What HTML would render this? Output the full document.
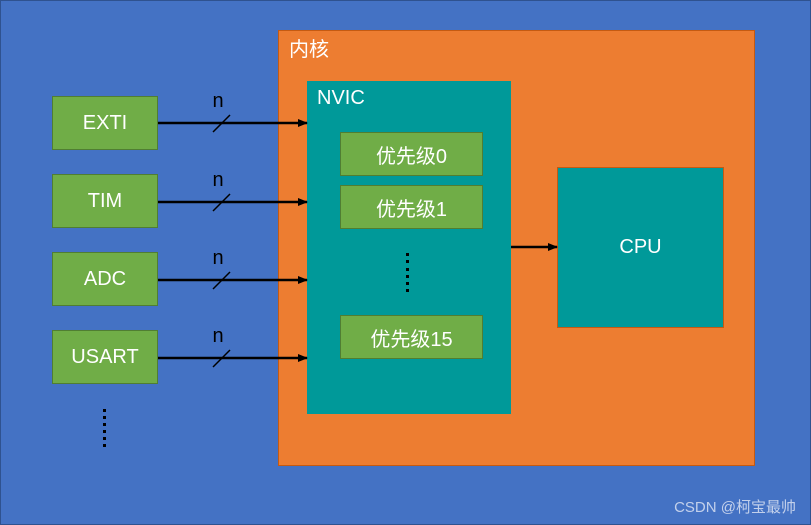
<!DOCTYPE html>
<html><head><meta charset="utf-8"><style>
body{margin:0;width:811px;height:525px;overflow:hidden;background:#4472C4;font-family:"Liberation Sans","Noto Sans CJK SC",sans-serif}
.b{position:absolute;box-sizing:border-box;color:#fff;display:flex;align-items:center;justify-content:center;font-size:20px}
.g{background:#70AD47;border:1.5px solid #507E32}
</style></head><body>
<div class="b" style="left:0;top:0;width:811px;height:525px;border:1px solid #2F528F"></div>
<div class="b" style="left:278px;top:30px;width:477px;height:436px;background:#ED7D31;border:1px solid #C55A11;align-items:flex-start;justify-content:flex-start;padding:2px 0 0 10px">内核</div>
<div class="b" style="left:307px;top:81px;width:204px;height:333px;background:#009999;align-items:flex-start;justify-content:flex-start;padding:6px 0 0 10px">NVIC</div>
<div class="b" style="left:557px;top:167px;width:167px;height:161px;background:#009999;border:1px solid #C55A11">CPU</div>
<div class="b g" style="left:340px;top:132px;width:143px;height:44px">优先级0</div>
<div class="b g" style="left:340px;top:185px;width:143px;height:44px">优先级1</div>
<div class="b g" style="left:340px;top:315px;width:143px;height:44px">优先级15</div>
<div class="b g" style="left:52px;top:96px;width:106px;height:54px">EXTI</div>
<div class="b g" style="left:52px;top:174px;width:106px;height:54px">TIM</div>
<div class="b g" style="left:52px;top:252px;width:106px;height:54px">ADC</div>
<div class="b g" style="left:52px;top:330px;width:106px;height:54px">USART</div>
<svg width="811" height="525" style="position:absolute;left:0;top:0">
<defs><marker id="a" markerWidth="10" markerHeight="8" refX="9" refY="4" orient="auto" markerUnits="userSpaceOnUse"><path d="M0,0 L10,4 L0,8z" fill="#000"/></marker></defs>
<g stroke="#000" stroke-width="2.5" fill="none">
<line x1="158" y1="123" x2="307" y2="123" marker-end="url(#a)"/>
<line x1="158" y1="202" x2="307" y2="202" marker-end="url(#a)"/>
<line x1="158" y1="280" x2="307" y2="280" marker-end="url(#a)"/>
<line x1="158" y1="358" x2="307" y2="358" marker-end="url(#a)"/>
<line x1="511" y1="247" x2="557" y2="247" marker-end="url(#a)"/>
</g>
<g stroke="#000" stroke-width="1.5">
<line x1="213" y1="132" x2="230" y2="115"/>
<line x1="213" y1="211" x2="230" y2="194"/>
<line x1="213" y1="289" x2="230" y2="272"/>
<line x1="213" y1="367" x2="230" y2="350"/>
</g>
<g font-family="Liberation Sans" font-size="20" fill="#000" text-anchor="middle">
<text x="218" y="107">n</text><text x="218" y="186">n</text><text x="218" y="264">n</text><text x="218" y="342">n</text>
</g>
<g fill="#000">
<rect x="406" y="253" width="3" height="3"/><rect x="406" y="260" width="3" height="3"/><rect x="406" y="268" width="3" height="3"/><rect x="406" y="275" width="3" height="3"/><rect x="406" y="282" width="3" height="3"/><rect x="406" y="289" width="3" height="3"/>
<rect x="103" y="409" width="3" height="3"/><rect x="103" y="416" width="3" height="3"/><rect x="103" y="423" width="3" height="3"/><rect x="103" y="430" width="3" height="3"/><rect x="103" y="437" width="3" height="3"/><rect x="103" y="444" width="3" height="3"/>
</g>
<text x="796" y="512" text-anchor="end" font-family="Liberation Sans,Noto Sans CJK SC,sans-serif" font-size="15" fill="#D9E1F2" opacity="0.85">CSDN @柯宝最帅</text>
</svg>
</body></html>
